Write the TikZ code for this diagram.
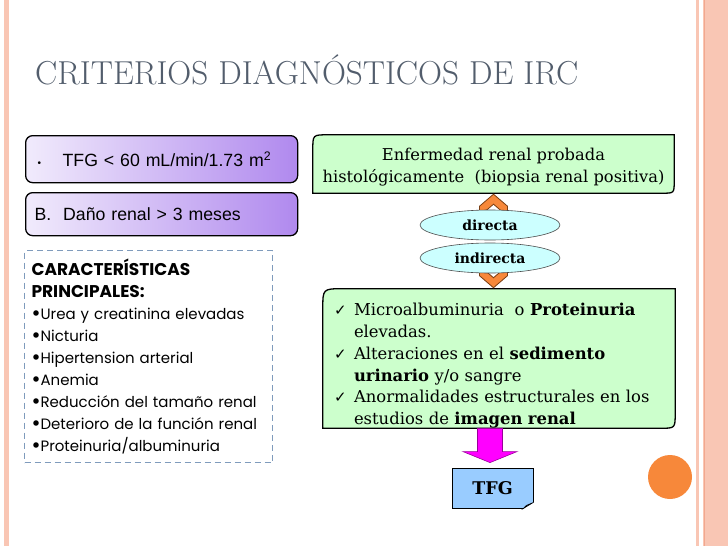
\documentclass[tikz,border=0pt]{standalone}
\usepackage{fontspec}
\usepackage{graphicx}
\usepackage{tikz}
\usetikzlibrary{positioning,calc,shapes.geometric,backgrounds}
\newfontfamily\arialf{Liberation Sans}
\newfontfamily\listf{Poppins}
\newfontfamily\symf{DejaVu Sans}
\newfontfamily\serf{DejaVu Serif}
\definecolor{borde}{HTML}{F9C6B4}
\definecolor{bordeosc}{HTML}{F2A88F}
\definecolor{titulo}{HTML}{525D6C}
\definecolor{lila}{HTML}{F1EBFC}
\definecolor{morado}{HTML}{B089EE}
\definecolor{verde}{HTML}{CCFFCC}
\definecolor{cian}{HTML}{CCFFFF}
\definecolor{azul}{HTML}{99CCFF}
\definecolor{naranja}{HTML}{F7883A}
\definecolor{naranjaosc}{HTML}{7A3E12}
\definecolor{rosa}{HTML}{FF00FF}
\definecolor{rosaosc}{HTML}{990099}
\definecolor{trazo}{HTML}{7F9BBC}
\newcommand{\palomita}{\makebox[20pt][l]{\symf\fontsize{15}{15}\selectfont ✓}}
\newcommand{\punto}{{\bfseries\fontsize{18}{22}\selectfont •}}
\tikzset{
  lilab/.style={draw=black, line width=1.3pt, rounded corners=7pt,
                left color=lila, right color=morado, minimum width=272pt,
                anchor=north west, inner xsep=9pt, inner ysep=0pt,
                text width=254pt, align=left,
                font=\arialf\fontsize{17.7}{19}\selectfont},
  verdeb/.style={draw=black, line width=1.3pt, fill=verde},
  caja/.style={inner sep=0pt, align=center, font=\serf\fontsize{16.3}{22}\selectfont},
  elip/.style={ellipse, draw=black!70, line width=0.6pt, fill=cian,
               minimum width=140pt, minimum height=30pt, inner sep=0pt,
               font=\serf\bfseries\fontsize{14}{14}\selectfont},
  flecha/.style={fill=naranja, draw=naranjaosc, line width=0.8pt, line join=miter},
  flechab/.style={fill=rosa, draw=rosaosc, line width=0.6pt},
}

\begin{document}
\begin{tikzpicture}[x=1pt, y=-1pt]
  \useasboundingbox (0,0) rectangle (728,546);
  % bordes
  \fill[borde] (4,0) rectangle (9,546);
  \fill[borde] (696,0) rectangle (699,546);
  \fill[borde] (703,0) rectangle (728,546);
  \draw[bordeosc, line width=1pt] (704,0) -- (704,546);

  % titulo
  \node[anchor=base west, inner sep=0pt, text=titulo] (tit) at (35,84)
       {\resizebox{543pt}{!}{\fontsize{32}{32}\selectfont CRITERIOS DIAGNÓSTICOS DE IRC}};

  % criterios A y B
  \node[lilab, minimum height=47pt] (tfgA) at (25,135)
       {\makebox[28pt][l]{\hspace{3pt}\fontsize{10}{10}\selectfont•}TFG < 60 mL/min/1.73 m\textsuperscript{2}};
  \node[lilab, minimum height=43pt] (dano) at (25,192)
       {B.\ \ Daño renal > 3 meses};

  % caracteristicas
  \node[draw=trazo, line width=1.1pt, dash pattern=on 6pt off 4pt,
        anchor=north west, minimum width=248pt, minimum height=212pt,
        inner xsep=7pt, text width=234pt, align=left,
        font=\listf\fontsize{15}{22}\selectfont] (carac) at (24,250)
       {{\bfseries\fontsize{17}{22}\selectfont CARACTERÍSTICAS\\ PRINCIPALES:}\\
        \punto Urea y creatinina elevadas\\
        \punto Nicturia\\
        \punto Hipertension arterial\\
        \punto Anemia\\
        \punto Reducción del tamaño renal\\
        \punto Deterioro de la función renal\\
        \punto Proteinuria/albuminuria};

  % biopsia
  \node[caja, minimum width=361pt, minimum height=58pt] (enf) at (493.5,164)
       {\rule{0pt}{19pt}Enfermedad renal probada\\ histológicamente\ \ (biopsia renal positiva)};
  \begin{scope}[on background layer]
    \filldraw[verdeb] (enf.south west) -- ($(enf.north west)+(0,15)$)
      .. controls (enf.north west) .. ($(enf.north west)+(15,0)$)
      -- (enf.north east) -- ($(enf.south east)+(0,-12)$)
      .. controls (enf.south east) .. ($(enf.south east)+(-12,0)$) -- cycle;
  \end{scope}

  % marcadores
  \node[caja, minimum width=352pt, minimum height=137pt, inner xsep=11pt,
        text width=330pt, align=left,
        font=\serf\fontsize{16.4}{21.7}\selectfont] (crit) at (499,358.5)
       {\rule{0pt}{27pt}\palomita Microalbuminuria\ \ o \textbf{Proteinuria}\\
        \hspace*{20pt}elevadas.\\
        \palomita Alteraciones en el \textbf{sedimento}\\
        \hspace*{20pt}\textbf{urinario} y/o sangre\\
        \palomita Anormalidades estructurales en los\\
        \hspace*{20pt}estudios de \textbf{imagen renal}};
  \begin{scope}[on background layer]
    \filldraw[verdeb] (crit.south west) -- ($(crit.north west)+(0,20)$)
      .. controls (crit.north west) .. ($(crit.north west)+(20,0)$)
      -- (crit.north east) -- ($(crit.south east)+(0,-15)$)
      .. controls (crit.south east) .. ($(crit.south east)+(-15,0)$) -- cycle;
  \end{scope}

  % flecha doble
  \coordinate (fa) at ($(enf.south)+(0,1)$);
  \coordinate (fb) at ($(enf.south |- crit.north)+(0,-1)$);
  \filldraw[flecha] (fa) -- ++(14,12) -- ++(0,10) -- ++(-14,-12) -- ++(-14,12)
    -- ++(0,-10) -- cycle;
  \filldraw[flecha] (fb) -- ++(14,-12) -- ++(0,-10) -- ++(-14,12) -- ++(-14,-12)
    -- ++(0,10) -- cycle;
  \node[elip] (dir) at (490,225) {directa};
  \node[elip] (ind) at (490,258) {indirecta};

  % TFG
  \node[draw=black, line width=0.8pt, fill=azul, minimum width=81pt,
        minimum height=40pt, font=\serf\bfseries\fontsize{17.5}{17.5}\selectfont]
       (tfg) at (492.5,488) {TFG};
  \fill[white] ($(tfg.south east)+(-10,0.5)$) -- ($(tfg.south east)+(0.5,0.5)$)
    -- ($(tfg.south east)+(0.5,-6)$) -- cycle;
  \filldraw[fill=azul!60!white, draw=black, line width=0.6pt]
    ($(tfg.south east)+(-10,0)$) -- ($(tfg.south east)+(0,-6)$)
    -- ($(tfg.south east)+(-7,-3)$) -- cycle;
  \draw[black, line width=0.8pt] ($(tfg.south east)+(-10,0)$) -- (tfg.south west);
  \draw[black, line width=0.8pt] ($(tfg.south east)+(0,-6)$) -- (tfg.north east);

  \coordinate (mp) at ($(tfg.north)+(-2.5,-5)$);
  \filldraw[flechab] ($(mp |- crit.south)+(-12.5,0)$) -- ($(mp)+(-12.5,-11)$)
    -- ($(mp)+(-27,-11)$) -- (mp) -- ($(mp)+(27,-11)$) -- ($(mp)+(12.5,-11)$)
    -- ($(mp |- crit.south)+(12.5,0)$) -- cycle;

  % circulo
  \fill[naranja] (670,477) circle (22);
\end{tikzpicture}
\end{document}
